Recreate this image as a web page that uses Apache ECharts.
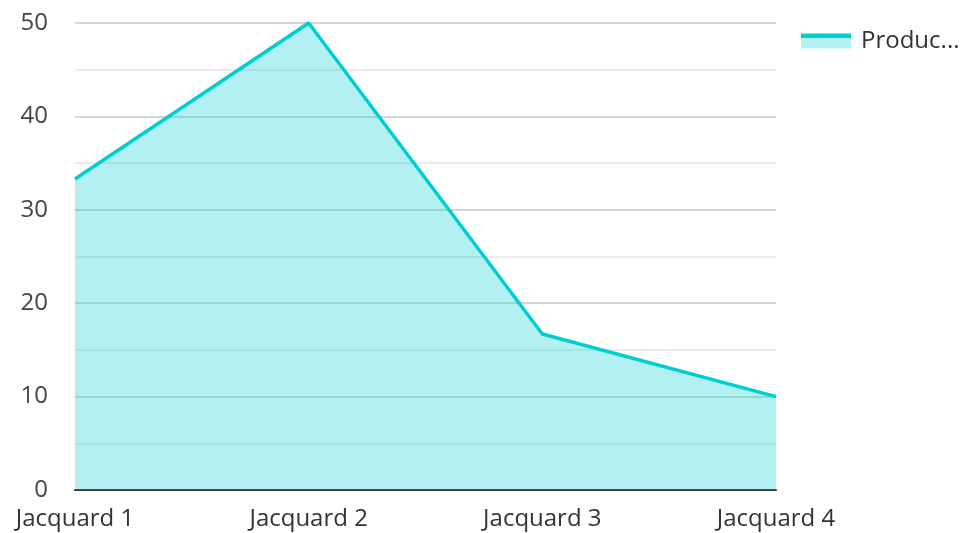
<!DOCTYPE html>
<html>
<head>
<meta charset="utf-8">
<script src="https://cdn.jsdelivr.net/npm/echarts@6/dist/echarts.min.js"></script>
<style>
	html, body { margin: 0; padding: 0; background: #fff; }
	#chart { width: 963px; height: 533px; }
</style>
</head>
<body>
<div id="chart"></div>
<script>
// data
const categories = ['Jacquard 1', 'Jacquard 2', 'Jacquard 3', 'Jacquard 4'];
const seriesName = 'Production';
const values = [33.3, 50, 16.7, 10];

const lineColor = '#00ced1';
const fillColor = '#b2f0f1';
const font = '"Open Sans", "Noto Sans", sans-serif';

const myChart = echarts.init(document.getElementById('chart'));
const option = {
	animation: false,
	textStyle: { fontFamily: font },
	legend: {
		left: 796,
		top: 24,
		icon: 'rect',
		itemWidth: 50,
		itemHeight: 15,
		itemStyle: {
			// line on top of the area swatch
			color: new echarts.graphic.LinearGradient(0, 0, 0, 1, [
				{ offset: 0, color: lineColor },
				{ offset: 0.27, color: lineColor },
				{ offset: 0.27, color: fillColor },
				{ offset: 1, color: fillColor },
			]),
		},
		textStyle: {
			fontSize: 24,
			color: '#333',
			fontFamily: font,
			width: 100,
			padding: [0, 0, 0, 5],
			overflow: 'truncate',
			ellipsis: '...',
		},
		data: [seriesName],
	},
	grid: {
		left: 75,
		right: 187,
		top: 23,
		bottom: 43,
	},
	xAxis: {
		type: 'category',
		boundaryGap: false,
		data: categories,
		axisLine: { lineStyle: { color: '#333', width: 2 } },
		axisTick: { show: false },
		axisLabel: { color: '#333', fontSize: 24, margin: 17, fontFamily: font },
	},
	yAxis: {
		type: 'value',
		min: 0,
		max: 50,
		interval: 10,
		axisLine: { show: false },
		axisTick: { show: false },
		axisLabel: { color: '#444', fontSize: 24, margin: 27, fontFamily: font },
		splitLine: { show: true, lineStyle: { color: '#c8c8c8', width: 1.5 } },
		minorTick: { show: false, splitNumber: 2 },
		minorSplitLine: { show: true, lineStyle: { color: '#e6e6e6', width: 1.5 } },
	},
	series: [
		{
			name: seriesName,
			type: 'line',
			data: values,
			symbol: 'none',
			z: 1,
			lineStyle: { color: lineColor, width: 3.5 },
			itemStyle: { color: lineColor },
			areaStyle: { color: lineColor, opacity: 0.3 },
		},
	],
};
myChart.setOption(option);
</script>
</body>
</html>
